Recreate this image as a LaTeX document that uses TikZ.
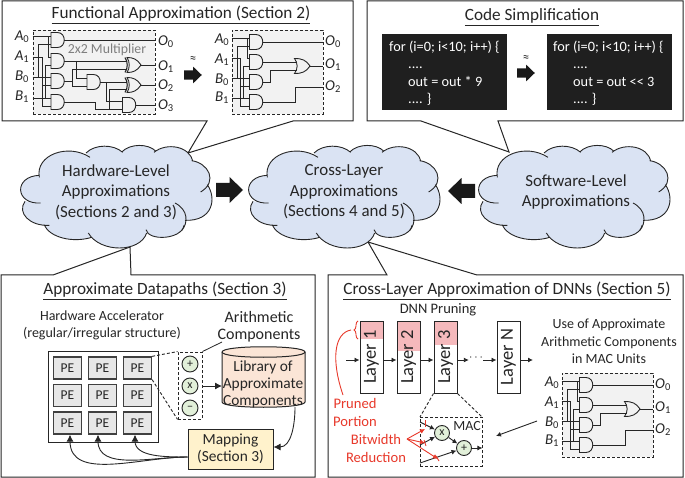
\documentclass[tikz,border=0pt]{standalone}
\usepackage{fontspec}
\setmainfont{Carlito}
\usetikzlibrary{arrows.meta,calc,decorations.pathreplacing}
\definecolor{ink}{HTML}{262626}
\definecolor{muted}{HTML}{7F7F7F}
\definecolor{redmark}{HTML}{E8392B}
\definecolor{cloudblue}{HTML}{DAE3F3}
\definecolor{gatebg}{HTML}{F2F2F2}
\definecolor{pegray}{HTML}{E7E7E7}
\definecolor{addgreen}{HTML}{E2F0D9}
\definecolor{libpeach}{HTML}{FBE5D6}
\definecolor{mapyellow}{HTML}{FFF2CC}
\definecolor{prunepink}{HTML}{F5B9BC}
\newcommand{\pinname}[2]{\textit{#1}\textsubscript{#2}}
% one cloud outline, #1 joins the puffs (-- for the fill, nothing for the line)
\newcommand{\cloudpuffs}[1]{(118,178) .. controls (105,110) and (205,75) .. (270,118) #1
  (258,105) .. controls (285,78) and (340,78) .. (368,103) #1
  (365,102) .. controls (390,76) and (445,76) .. (468,100) #1
  (462,103) .. controls (500,72) and (570,85) .. (578,130) #1
  (575,128) .. controls (625,135) and (655,190) .. (602,222) #1
  (622,200) .. controls (650,240) and (640,310) .. (555,307) #1
  (525,255) .. controls (565,275) and (565,315) .. (545,338) #1
  (552,322) .. controls (545,365) and (445,370) .. (438,335) #1
  (440,345) .. controls (420,405) and (300,405) .. (265,345) #1
  (275,358) .. controls (220,375) and (150,360) .. (132,320) #1
  (148,322) .. controls (90,325) and (50,285) .. (75,250) #1
  (122,255) .. controls (45,260) and (40,175) .. (118,172)}
\tikzset{
  panel/.style={draw=ink, line width=1pt, fill=white},
  wire/.style={draw=ink, line width=0.8pt},
  link/.style={draw=ink, line width=0.9pt, -{Latex[length=5pt,width=5pt]}},
  biglink/.style={draw=ink, line width=0.9pt, -{Latex[length=7pt,width=7pt]}},
  redlink/.style={draw=redmark, line width=0.9pt, -{Latex[length=5pt,width=5pt]}},
  boxdash/.style={draw=ink, line width=0.9pt, dash pattern=on 3pt off 2pt},
  titlelbl/.style={text=ink, font=\fontsize{17.2}{20}\selectfont, inner sep=0pt},
  cloudlbl/.style={text=ink, font=\fontsize{16.9}{20.5}\selectfont, align=center, inner sep=0pt},
  bodylbl/.style={text=ink, font=\fontsize{14}{17.5}\selectfont, align=center, inner sep=0pt},
  arithlbl/.style={text=ink, font=\fontsize{15.4}{17}\selectfont, align=center, inner sep=0pt},
  redlbl/.style={text=redmark, font=\fontsize{14.6}{18}\selectfont, align=center, inner sep=0pt},
  pinlbl/.style={text=ink, font=\fontsize{15}{16}\selectfont, inner sep=0pt},
  codelbl/.style={text=white, font=\fontsize{14.3}{16}\selectfont, inner sep=0pt, anchor=base west},
  codebox/.style={fill=black!88, minimum width=125pt, minimum height=76pt, inner sep=0pt},
  gatebody/.style={draw=ink, fill=gatebg, line width=0.9pt},
  gatearea/.style={boxdash, fill=gatebg, inner sep=0pt},
  approxlbl/.style={text=ink, font=\fontsize{13}{13}\selectfont, inner sep=0pt},
  pebox/.style={draw=black!75, line width=1.3pt, fill=pegray, minimum width=28pt, minimum height=22pt, inner sep=0pt, text=ink, font=\fontsize{13.5}{15}\selectfont},
  opnode/.style={circle, draw=ink, line width=0.9pt, fill=addgreen, minimum size=16pt, inner sep=0pt, text=ink, font=\fontsize{12}{12}\selectfont},
  layerbox/.style={draw=ink, line width=1pt, fill=white, minimum width=23pt, minimum height=72pt, inner sep=0pt},
  layertxt/.style={text=ink, rotate=90, font=\fontsize{18.5}{18}\selectfont, inner sep=0pt},
  blockarrow/.pic={
    \fill[black!90] (-13.5,-7) -- (0,-7) -- (0,-13) -- (13.5,0) -- (0,13) -- (0,7) -- (-13.5,7) -- cycle;
  },
  andg/.pic={
    \draw[gatebody] (-6.5,-7.5) -- (0,-7.5) .. controls (9,-7.5) and (9,7.5) .. (0,7.5) -- (-6.5,7.5) -- cycle;
    \coordinate (in1) at (-6.5,-4);
    \coordinate (in2) at (-6.5,4);
    \coordinate (out) at (6.75,0);
  },
  org/.pic={
    \draw[gatebody] (-7.5,-7.5) .. controls (0,-7.5) and (4,-6) .. (8,0) .. controls (4,6) and (0,7.5) .. (-7.5,7.5) .. controls (-4,3) and (-4,-3) .. (-7.5,-7.5) -- cycle;
    \coordinate (in1) at (-5.2,-4);
    \coordinate (in2) at (-5.2,4);
    \coordinate (out) at (8,0);
  },
  xorg/.pic={
    \draw[gatebody] (-6,-7.5) .. controls (0,-7.5) and (4,-6) .. (8,0) .. controls (4,6) and (0,7.5) .. (-6,7.5) .. controls (-3,3) and (-3,-3) .. (-6,-7.5) -- cycle;
    \draw[ink, line width=1.1pt] (-8,-7.5) .. controls (-5,-3) and (-5,3) .. (-8,7.5);
    \coordinate (in1) at (-6.3,-4);
    \coordinate (in2) at (-6.3,4);
    \coordinate (out) at (8,0);
  },
  approxcircuit/.pic={
    \node[gatearea, minimum width=91pt, minimum height=84pt] (box) at (277.5,72) {};
    \pic (g1) at (256,42) {andg};
    \pic (g2) at (256,62) {andg};
    \pic (g3) at (256,82) {andg};
    \pic (g4) at (256,102) {andg};
    \pic (g5) at (302,66) {org};
    \coordinate (inA0) at (g1in1 -| box.west);
    \coordinate (inA1) at (g2in1 -| box.west);
    \coordinate (inB0) at (g3in1 -| box.west);
    \coordinate (inB1) at (g4in1 -| box.west);
    \coordinate (outO0) at (g1out -| box.east);
    \coordinate (outO1) at (g5out -| box.east);
    \coordinate (outO2) at (box.east |- 0,87);
    \draw[wire] (inA0) -- (g1in1);
    \draw[wire] (inB0) -- (g3in1);
    \draw[wire] (inB1) -- (g4in1);
    \draw[wire] (inA1) -- (240,58) -- (240,106) -- (g4in2);
    \draw[wire] (240,86) -- (g3in2);
    \draw[wire] (g1in2) -| (237,78);
    \draw[wire] (g2in1) -| (247,38);
    \draw[wire] (g2in2) -| (243,98);
    \draw[wire] (g1out) -- (outO0);
    \draw[wire] (g2out) -- (g5in1 |- g2out);
    \draw[wire] (g3out) -| (270,70) -- (g5in2);
    \draw[wire] (g5out) -- (outO1);
    \draw[wire] (g4out) -| (295,87) -- (outO2);
    \node[pinlbl] (lA0) at (222,40) {\pinname{A}{0}};
    \node[pinlbl] (lA1) at (222,60) {\pinname{A}{1}};
    \node[pinlbl] (lB0) at (222,80) {\pinname{B}{0}};
    \node[pinlbl] (lB1) at (222,98) {\pinname{B}{1}};
    \node[pinlbl] (lO0) at (333,42) {\pinname{O}{0}};
    \node[pinlbl] (lO1) at (333,65) {\pinname{O}{1}};
    \node[pinlbl] (lO2) at (333,87) {\pinname{O}{2}};
  },
  puffcloud/.pic={
    \fill[cloudblue] \cloudpuffs{--};
    \draw[ink, line width=0.9pt] \cloudpuffs{};
  }
}
\begin{document}
\begin{tikzpicture}[x=1pt,y=-1pt]
  \useasboundingbox (0,0) rectangle (685,478);

  % callout panels
  \draw[panel] (2,1) -- (353,1) -- (353,121) -- (293,121) -- (188,153) -- (207,121) -- (2,121) -- cycle;
  \draw[panel] (367,1) -- (683,1) -- (683,121) -- (498,121) -- (509,152) -- (421,121) -- (367,121) -- cycle;
  \draw[panel] (1,275) -- (53,275) -- (130,247) -- (131,275) -- (315,275) -- (315,477) -- (1,477) -- cycle;
  \draw[panel] (328,275) -- (387,275) -- (368,242) -- (477,275) -- (683,275) -- (683,477) -- (328,477) -- cycle;

  % clouds
  \pic[scale=1/3] at (0,118) {puffcloud};
  \pic[scale=1/3] at (228,118) {puffcloud};
  \pic[scale=1/3] at (458,118) {puffcloud};
  \node[cloudlbl] (hwcloud) at (116,192) {Hardware-Level\\Approximations\\(Sections 2 and 3)};
  \node[cloudlbl] (xlcloud) at (344,192) {Cross-Layer\\Approximations\\(Sections 4 and 5)};
  \node[cloudlbl] (swcloud) at (576,192) {Software-Level\\Approximations};
  \pic at (229.5,190) {blockarrow};
  \pic[xscale=-1] at (461.5,191) {blockarrow};

  % functional approximation
  \node[titlelbl] (functitle) at (181,15) {\underline{Functional Approximation (Section 2)}};
  \node[gatearea, minimum width=122pt, minimum height=84pt] (multbox) at (94,72) {};
  \pic (m1) at (57.5,40) {andg};
  \pic (m2) at (57.5,61) {andg};
  \pic (m3) at (57.5,81) {andg};
  \pic (m4) at (57.5,102) {andg};
  \pic (m5) at (93.5,82) {andg};
  \pic (m6) at (133,65) {xorg};
  \pic (m7) at (133,85) {xorg};
  \pic (m8) at (129,105) {andg};
  \coordinate (mA0) at (m1in1 -| multbox.west);
  \coordinate (mA1) at (m2in1 -| multbox.west);
  \coordinate (mB0) at (m3in1 -| multbox.west);
  \coordinate (mB1) at (m4in1 -| multbox.west);
  \draw[wire] (mA0) -- (m1in1);
  \draw[wire] (mB0) -- (m3in1);
  \draw[wire] (mB1) -- (m4in1);
  \draw[wire] (mA1) -- (42,57) -- (42,106) -- (m4in2);
  \draw[wire] (42,85) -- (m3in2);
  \draw[wire] (m1in2) -| (38,77);
  \draw[wire] (m2in1) -| (48,36);
  \draw[wire] (m2in2) -| (45,98);
  \draw[wire] (m1out) -- (m1out -| multbox.east);
  \draw[wire] (m2out) -- (m6in1 |- m2out);
  \draw[wire] (76,61) |- (m5in1);
  \draw[wire] (m3out) -| (72,69) -- (m6in2);
  \draw[wire] (72,81) |- (m5in2);
  \draw[wire] (m5out) -- (m7in1 |- m5out);
  \draw[wire] (106,82) |- (m8in1);
  \draw[wire] (m4out) -| (95,109) -- (m8in2);
  \draw[wire] (109,109) |- (m7in2);
  \draw[wire] (m6out) -- (m6out -| multbox.east);
  \draw[wire] (m7out) -- (m7out -| multbox.east);
  \draw[wire] (m8out) -- (m8out -| multbox.east);
  \node[text=muted, font=\fontsize{13.8}{16}\selectfont, inner sep=0pt] (multlbl) at (107,50) {2x2 Multiplier};
  \node[pinlbl] (pA0) at (22,37) {\pinname{A}{0}};
  \node[pinlbl] (pA1) at (22,57) {\pinname{A}{1}};
  \node[pinlbl] (pB0) at (22,77) {\pinname{B}{0}};
  \node[pinlbl] (pB1) at (22,97) {\pinname{B}{1}};
  \node[pinlbl] (pO0) at (166,42) {\pinname{O}{0}};
  \node[pinlbl] (pO1) at (166,67) {\pinname{O}{1}};
  \node[pinlbl] (pO2) at (166,86) {\pinname{O}{2}};
  \node[pinlbl] (pO3) at (166,106) {\pinname{O}{3}};
  \node[approxlbl] (funcapprox) at (193,60) {≈};
  \pic[scale=0.65] at (193,75) {blockarrow};
  \pic (topckt) at (0,0) {approxcircuit};

  % code simplification
  \node[titlelbl] (codetitle) at (532,17) {\underline{Code Simplification}};
  \node[codebox] (codea) at (444.5,72) {};
  \node[codebox] (codeb) at (609,72) {};
  \node[codelbl] (codea1) at (389,51.5) {for (i=0; i{<}10; i++) \{};
  \node[codelbl] (codea2) at (408,69) {....};
  \node[codelbl] (codea3) at (408,86.5) {out = out * 9};
  \node[codelbl] (codea4) at (408,104) {.... \}};
  \node[codelbl] (codeb1) at (553,51.5) {for (i=0; i{<}10; i++) \{};
  \node[codelbl] (codeb2) at (573,69) {....};
  \node[codelbl] (codeb3) at (573,86.5) {out = out {<}{<} 3};
  \node[codelbl] (codeb4) at (573,104) {.... \}};
  \node[approxlbl] (codeapprox) at (526,59) {≈};
  \pic[scale=0.65] at (526,73) {blockarrow};

  % approximate datapaths
  \node[titlelbl] (dptitle) at (165,291) {\underline{Approximate Datapaths (Section 3)}};
  \node[bodylbl] (acclbl) at (102,325.5) {Hardware Accelerator\\(regular/irregular structure)};
  \node[arithlbl, font=\fontsize{16}{17}\selectfont] (arithtxt) at (259,326.5) {Arithmetic\\Components};
  \node[draw=ink, line width=1pt, fill=white, minimum width=110pt, minimum height=91pt, inner sep=0pt] (accbox) at (103,396.5) {};
  \foreach \r/\yy in {1/368,2/395.5,3/423}
    \foreach \c/\xx in {1/67.5,2/102.5,3/137.5}
      \node[pebox] (pe\r\c) at (\xx,\yy) {PE};
  \node[boxdash, minimum width=24pt, minimum height=67pt, inner sep=0pt] (opsbox) at (190,385.5) {};
  \node[opnode] (opadd) at (190,364) {+};
  \node[opnode] (opmul) at (190,386) {x};
  \node[opnode] (opsub) at (190,408) {−};
  \draw[boxdash] (pe13.north east) -- (opsbox.north west);
  \draw[boxdash] (pe13.south east) -- (opsbox.south west);
  \draw[wire] (opsbox.north east) -- (222,342);
  % library cylinder
  \draw[draw=ink, line width=1pt, fill=libpeach] (222,352) -- (222,402) .. controls (222,409) and (305,409) .. (305,402) -- (305,352) .. controls (305,345) and (222,345) .. (222,352) -- cycle;
  \draw[ink, line width=1pt] (222,352) .. controls (222,359) and (305,359) .. (305,352);
  \coordinate (libleft) at (222,389);
  \coordinate (libfoot) at (295,407);
  \node[arithlbl] (liblbl) at (263,384) {Library of\\Approximate\\Components};
  \draw[biglink] (opsbox.east |- opmul) -- (libleft |- opmul);
  \node[draw=ink, line width=1pt, fill=mapyellow, minimum width=85pt, minimum height=40pt, text=ink, font=\fontsize{15.4}{17}\selectfont, align=center, inner sep=0pt] (maplbl) at (230.5,449) {Mapping\\(Section 3)};
  \draw[biglink] (libfoot) to[out=-90,in=0] ([yshift=2pt]maplbl.east);
  \draw[biglink] ([yshift=-8pt]maplbl.west) to[out=180,in=-90] ([xshift=2.5pt]pe31.south);
  \draw[biglink] ([yshift=-8pt]maplbl.west) to[out=180,in=-90] ([xshift=-4.5pt]pe32.south);
  \draw[biglink] ([yshift=-8pt]maplbl.west) to[out=180,in=-90] ([xshift=-2.5pt]pe33.south);

  % cross-layer approximation of DNNs
  \node[titlelbl] (dnntitle) at (507,291) {\underline{Cross-Layer Approximation of DNNs (Section 5)}};
  \node[bodylbl, font=\fontsize{14.5}{17}\selectfont] (prunelbl) at (438,310) {DNN Pruning};
  \node[layerbox, path picture={\fill[prunepink] (path picture bounding box.north west) rectangle ([yshift=-18pt]path picture bounding box.north east);}] (layer1) at (371.5,357) {};
  \node[layerbox, path picture={\fill[prunepink] (path picture bounding box.north west) rectangle ([yshift=-30pt]path picture bounding box.north east);}] (layer2) at (408.5,357) {};
  \node[layerbox, path picture={\fill[prunepink] (path picture bounding box.north west) rectangle ([yshift=-24pt]path picture bounding box.north east);}] (layer3) at (445.5,357) {};
  \node[layerbox] (layerN) at (508.5,357) {};
  \node[layertxt] (txt1) at (371.5,357) {Layer 1};
  \node[layertxt] (txt2) at (408.5,357) {Layer 2};
  \node[layertxt] (txt3) at (445.5,357) {Layer 3};
  \node[layertxt] (txtN) at (508.5,357) {Layer N};
  \coordinate (feedin) at (346,360);
  \coordinate (feedout) at (533,360);
  \node[inner sep=0pt, text=ink, font=\fontsize{12}{12}\selectfont] (layerdots) at (476,358) {$\cdots$};
  \draw[link] (feedin) -- (feedin -| layer1.west);
  \draw[link] (feedin -| layer1.east) -- (feedin -| layer2.west);
  \draw[link] (feedin -| layer2.east) -- (feedin -| layer3.west);
  \draw[link] (feedin -| layer3.east) -- (feedin -| layerdots.west);
  \draw[link] (feedin -| layerdots.east) -- (feedin -| layerN.west);
  \draw[link] (feedin -| layerN.east) -- (feedout);
  % pruned portion
  \draw[redmark, line width=0.9pt, decorate, decoration={brace, amplitude=4pt, mirror}] (358,321) -- (358,339);
  \coordinate (bracetip) at (351,330);
  \draw[redmark, line width=0.9pt] (bracetip) .. controls (334,333) and (331,360) .. (343,395);
  \node[redlbl] (prunedlbl) at (355,412) {Pruned\\Portion};
  % MAC
  \draw[boxdash] (layer3.south west) -- (420,417);
  \draw[boxdash] (layer3.south east) -- (482,417);
  \node[boxdash, minimum width=62pt, minimum height=49pt, inner sep=0pt] (macbox) at (451,441.5) {};
  \node[bodylbl] (maclbl) at (467,426) {MAC};
  \node[opnode, minimum size=15pt] (macmul) at (442,433) {x};
  \node[opnode, minimum size=15pt] (macadd) at (464,448) {+};
  \coordinate (maca) at (420,422);
  \coordinate (macb) at (420,445);
  \coordinate (macc) at (420,463);
  \draw[link] (maca) -- (macmul);
  \draw[link] (macb) -- (macmul);
  \draw[link] (macc) -- (macadd);
  \draw[link] (macmul) -- (macadd);
  \draw[link] (macadd) -- (macadd -| macbox.east);
  \node[redlbl] (bitlbl) at (376,448) {Bitwidth\\Reduction};
  \coordinate (bitfrom) at (407,439);
  \draw[redlink] (bitfrom) -- (425,429);
  \draw[redlink] (bitfrom) -- (425,443);
  \draw[redlink] (bitfrom) -- (438,459);
  \draw[redmark, line width=0.9pt] (425,420) -- (425,427);
  \draw[redmark, line width=0.9pt] (424,440) -- (426,446);
  \draw[redmark, line width=0.9pt] (436,456) -- (439,461);
  % MAC units
  \node[bodylbl] (macuselbl) at (609,341.5) {Use of Approximate\\Arithmetic Components\\in MAC Units};
  \pic (botckt) at (330,343) {approxcircuit};
  \coordinate (usefrom) at (537,421);
  \draw[link] (usefrom) -- (496,436);
\end{tikzpicture}
\end{document}
